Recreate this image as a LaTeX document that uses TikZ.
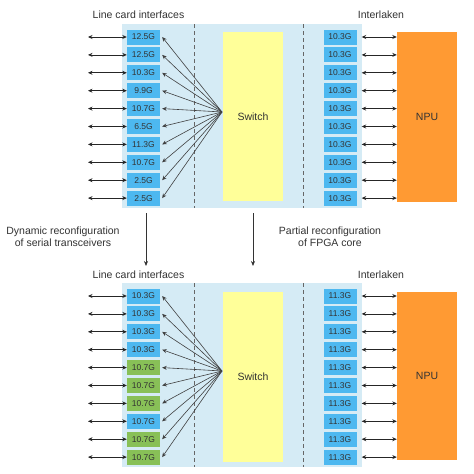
\documentclass[tikz,border=0pt]{standalone}
\usepackage{fontspec}
\setmainfont{Liberation Sans}
\usetikzlibrary{arrows.meta}
\definecolor{bgblue}{HTML}{D5EBF5}
\definecolor{boxblue}{HTML}{4DB8F0}
\definecolor{boxgreen}{HTML}{88C057}
\definecolor{swyellow}{HTML}{FFFF99}
\definecolor{npuorange}{HTML}{FF9A33}
\definecolor{txt}{HTML}{333333}
\tikzset{
  lane/.style={fill=boxblue, minimum width=33pt, minimum height=15pt, inner sep=0pt, font=\fontsize{8.5}{9}\selectfont, text=txt},
  laneg/.style={lane, fill=boxgreen},
  dbl/.style={{Stealth[length=4.5pt,width=4pt]}-{Stealth[length=4.5pt,width=4pt]}, line width=0.7pt, draw=black!85},
  fan/.style={-{Stealth[length=4.5pt,width=4pt]}, line width=0.6pt, draw=black!75},
  dashsep/.style={line width=0.6pt, draw=black!60, dash pattern=on 4pt off 3pt},
  title/.style={font=\fontsize{10.5}{12}\selectfont, text=txt},
  big/.style={font=\fontsize{10.5}{12}\selectfont, text=txt},
  down/.style={-{Stealth[length=5pt,width=4pt]}, line width=0.7pt, draw=black!80}
}
\begin{document}
\begin{tikzpicture}[x=1pt,y=-1pt]
\useasboundingbox (0,0) rectangle (474,474);
\fill[white] (0,0) rectangle (474,474);

% ---------- top panel ----------
\fill[bgblue] (122,24) rectangle (362,208);
\draw[dashsep] (194,24) -- (194,208);
\draw[dashsep] (303,24) -- (303,208);
\node[fill=swyellow, minimum width=60pt, minimum height=169pt, inner sep=0pt, big] (sw1) at (253,116.5) {Switch};
\node[fill=npuorange, minimum width=60pt, minimum height=170pt, inner sep=0pt, big] (npu1) at (427,117) {NPU};
\coordinate (f1) at (222,112);
\node[title] (lc1) at (138.5,15) {Line card interfaces};
\node[title] (il1) at (381,15) {Interlaken};

\foreach \i/\v in {0/12.5G,1/12.5G,2/10.3G,3/9.9G,4/10.7G,5/6.5G,6/11.3G,7/10.7G,8/2.5G,9/2.5G}{
  \node[lane] (a\i) at (143.5,{37+17.9*\i}) {\v};
  \coordinate (al\i) at (88,{37+17.9*\i});
  \draw[dbl] (al\i) -- (a\i.west);
  \draw[fan] (f1) -- ([xshift=2pt]a\i.east);
  \node[lane] (b\i) at (340,{37+17.9*\i}) {10.3G};
  \draw[dbl] ([xshift=5pt]b\i.east) -- (npu1.west |- b\i);
}

% ---------- middle ----------
\coordinate (d1s) at (146,213);
\coordinate (d1e) at (146,266);
\coordinate (d2s) at (253,213);
\coordinate (d2e) at (253,266);
\draw[down] (d1s) -- (d1e);
\draw[down] (d2s) -- (d2e);
\node[title, align=center] (t1) at (63,237) {Dynamic reconfiguration\\of serial transceivers};
\node[title, align=center] (t2) at (330,237) {Partial reconfiguration\\of FPGA core};

% ---------- bottom panel ----------
\fill[bgblue] (122,283) rectangle (362,467);
\draw[dashsep] (194,283) -- (194,467);
\draw[dashsep] (303,283) -- (303,467);
\node[fill=swyellow, minimum width=60pt, minimum height=170pt, inner sep=0pt, big] (sw2) at (253,377) {Switch};
\node[fill=npuorange, minimum width=60pt, minimum height=168pt, inner sep=0pt, big] (npu2) at (427,376) {NPU};
\coordinate (f2) at (222,371);
\node[title] (lc2) at (138.5,275) {Line card interfaces};
\node[title] (il2) at (381,275) {Interlaken};

\foreach \i/\s in {0/lane,1/lane,2/lane,3/lane,4/laneg,5/laneg,6/laneg,7/lane,8/laneg,9/laneg}{
  \pgfmathsetmacro{\lbl}{\i<4 ? "10.3G" : "10.7G"}
  \node[\s] (c\i) at (143.5,{296+17.9*\i}) {\lbl};
  \coordinate (cl\i) at (88,{296+17.9*\i});
  \draw[dbl] (cl\i) -- (c\i.west);
  \draw[fan] (f2) -- ([xshift=2pt]c\i.east);
  \node[lane] (e\i) at (340,{296+17.9*\i}) {11.3G};
  \draw[dbl] ([xshift=5pt]e\i.east) -- (npu2.west |- e\i);
}
\end{tikzpicture}
\end{document}
